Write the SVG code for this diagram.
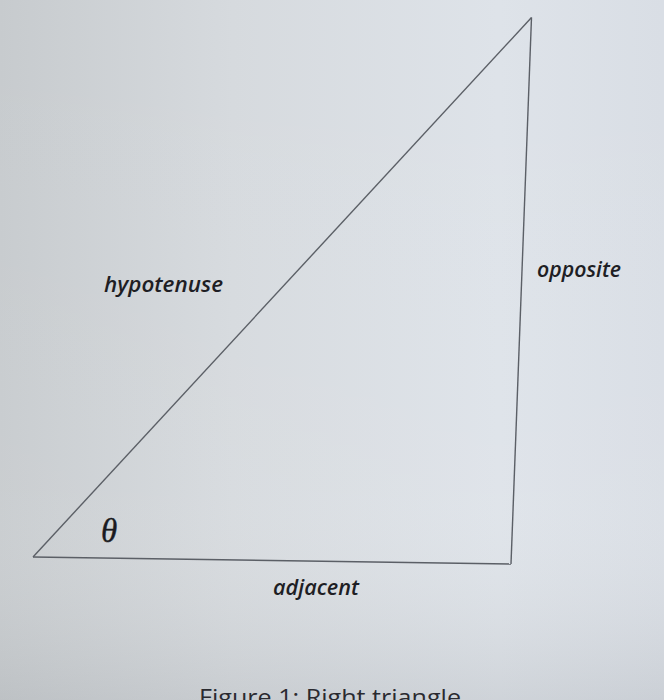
<svg xmlns="http://www.w3.org/2000/svg" width="664" height="700" viewBox="0 0 664 700">
<defs>
<linearGradient id="bg" x1="0" y1="0" x2="1" y2="0">
<stop offset="0" stop-color="#c7cbce"/>
<stop offset="0.35" stop-color="#d6dade"/>
<stop offset="0.75" stop-color="#dee3e9"/>
<stop offset="1" stop-color="#d9dee5"/>
</linearGradient>
<linearGradient id="vshade" x1="0" y1="0" x2="0" y2="1">
<stop offset="0" stop-color="#ffffff" stop-opacity="0"/>
<stop offset="0.7" stop-color="#ffffff" stop-opacity="0.05"/>
<stop offset="1" stop-color="#a0a4a8" stop-opacity="0.25"/>
</linearGradient>
<style>
.lbl{font-family:"Open Sans","Liberation Sans",sans-serif;font-style:italic;font-weight:600;font-size:22px;fill:#1e1e24}
.edge{fill:none;stroke:#5b5f66;stroke-width:1.4}
</style>
</defs>
<rect width="664" height="700" fill="url(#bg)"/>
<rect width="664" height="700" fill="url(#vshade)"/>
<g id="connectors">
<line class="edge" x1="33" y1="557" x2="531.5" y2="17.5"/>
<line class="edge" x1="531.5" y1="17.5" x2="511" y2="564"/>
<line class="edge" x1="33" y1="557" x2="511" y2="564"/>
</g>
<g id="hypotenuse"><text class="lbl" x="104" y="292" textLength="119" lengthAdjust="spacingAndGlyphs">hypotenuse</text></g>
<g id="opposite"><text class="lbl" x="537" y="277" textLength="84" lengthAdjust="spacingAndGlyphs">opposite</text></g>
<g id="adjacent"><text class="lbl" x="273" y="595" textLength="86" lengthAdjust="spacingAndGlyphs">adjacent</text></g>
<g id="theta"><text x="101" y="542" font-family="'Liberation Serif',serif" font-style="italic" font-size="33" fill="#1a1a20" stroke="#1a1a20" stroke-width="0.4">θ</text></g>
<g id="caption"><text x="199" y="705" font-family="'Open Sans','Liberation Sans',sans-serif" font-size="21" fill="#2a2a30" textLength="262" lengthAdjust="spacingAndGlyphs">Figure 1: Right triangle</text></g>
</svg>
